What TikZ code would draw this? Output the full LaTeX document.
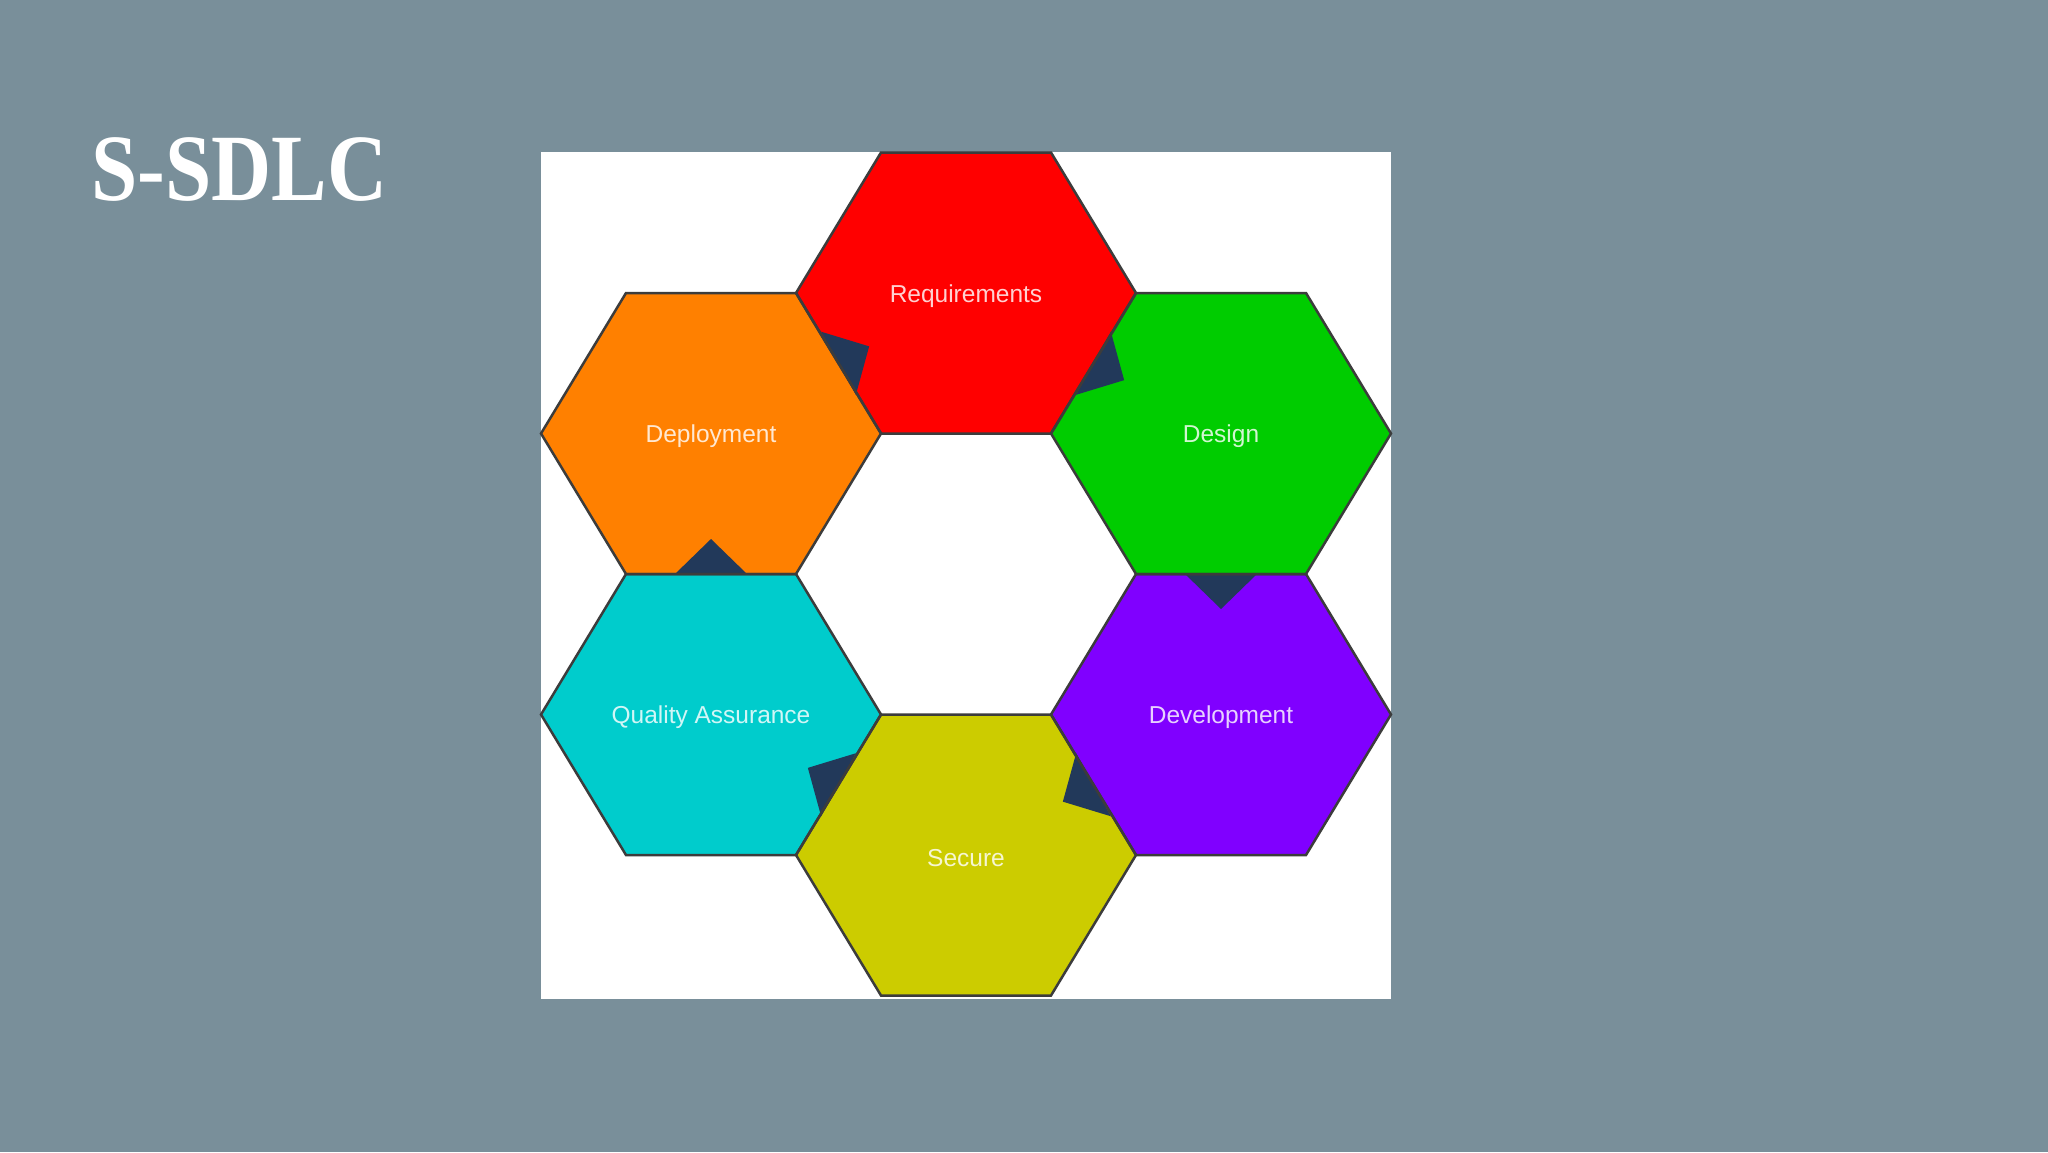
\documentclass[tikz,border=0pt]{standalone}
\usepackage{fontspec}
\newfontfamily\lblfont{Liberation Sans}
\newfontfamily\titlefont{Liberation Serif}
\usetikzlibrary{calc}
\definecolor{bgc}{HTML}{798F9A}
\definecolor{ptr}{HTML}{22395A}
\definecolor{hred}{HTML}{FF0000}
\definecolor{horange}{HTML}{FF8000}
\definecolor{hgreen}{HTML}{00CC00}
\definecolor{hcyan}{HTML}{00CCCC}
\definecolor{hpurple}{HTML}{8000FF}
\definecolor{hyellow}{HTML}{CCCC00}
\definecolor{edgec}{HTML}{3C3C3C}
\newcommand\HexCell[4]{%
  \coordinate (#1) at (#2,#3);
  \coordinate (#1-e) at ($(#1)+(170,0)$);
  \coordinate (#1-ne) at ($(#1)+(85,-140.5)$);
  \coordinate (#1-nw) at ($(#1)+(-85,-140.5)$);
  \coordinate (#1-w) at ($(#1)+(-170,0)$);
  \coordinate (#1-sw) at ($(#1)+(-85,140.5)$);
  \coordinate (#1-se) at ($(#1)+(85,140.5)$);
  \fill[#4] (#1-e) -- (#1-ne) -- (#1-nw) -- (#1-w) -- (#1-sw) -- (#1-se) -- cycle;
}
\newcommand\HexEdge[1]{%
  \draw[hexline] (#1-e) -- (#1-ne) -- (#1-nw) -- (#1-w) -- (#1-sw) -- (#1-se) -- cycle;
}
\newcommand\Pointer[2]{%
  \coordinate (#1-#2-m) at ($(#1)!0.5!(#2)$);
  \fill[ptr] ($(#1-#2-m)!36pt!90:(#2)$) -- ($(#1-#2-m)!35pt!(#2)$) -- ($(#1-#2-m)!36pt!-90:(#2)$) -- cycle;
}
\tikzset{
  hexline/.style={draw=edgec, line width=2.5pt, line join=miter},
  lbl/.style={font=\lblfont\fontsize{24.5}{28}\selectfont, inner sep=0pt, yshift=-3pt},
}
\begin{document}
\begin{tikzpicture}[x=1pt, y=-1pt]
\fill[bgc] (0,0) rectangle (2048,1152);
\useasboundingbox (0,0) rectangle (2048,1152);
\node[anchor=base west, text=white, inner sep=0pt] (title) at (91,200)
  {\scalebox{0.876}[1]{\titlefont\bfseries\fontsize{95}{95}\selectfont S-SDLC}};
\fill[white] (541,152) rectangle (1391,999);
\HexCell{req}{966}{293}{hred}
\HexCell{des}{1221}{433.5}{hgreen}
\HexCell{dev}{1221}{714.5}{hpurple}
\HexCell{sec}{966}{855}{hyellow}
\HexCell{qa}{711}{714.5}{hcyan}
\HexCell{dep}{711}{433.5}{horange}
\Pointer{req}{des}
\Pointer{des}{dev}
\Pointer{dev}{sec}
\Pointer{sec}{qa}
\Pointer{qa}{dep}
\Pointer{dep}{req}
\HexEdge{req}
\HexEdge{des}
\HexEdge{dev}
\HexEdge{sec}
\HexEdge{qa}
\HexEdge{dep}
\node[lbl, text=hred!18!white] (req-t) at (req) {Requirements};
\node[lbl, text=hgreen!18!white] (des-t) at (des) {Design};
\node[lbl, text=hpurple!18!white] (dev-t) at (dev) {Development};
\node[lbl, text=hyellow!18!white] (sec-t) at (sec) {Secure};
\node[lbl, text=hcyan!18!white] (qa-t) at (qa) {Quality Assurance};
\node[lbl, text=horange!18!white] (dep-t) at (dep) {Deployment};
\end{tikzpicture}
\end{document}
